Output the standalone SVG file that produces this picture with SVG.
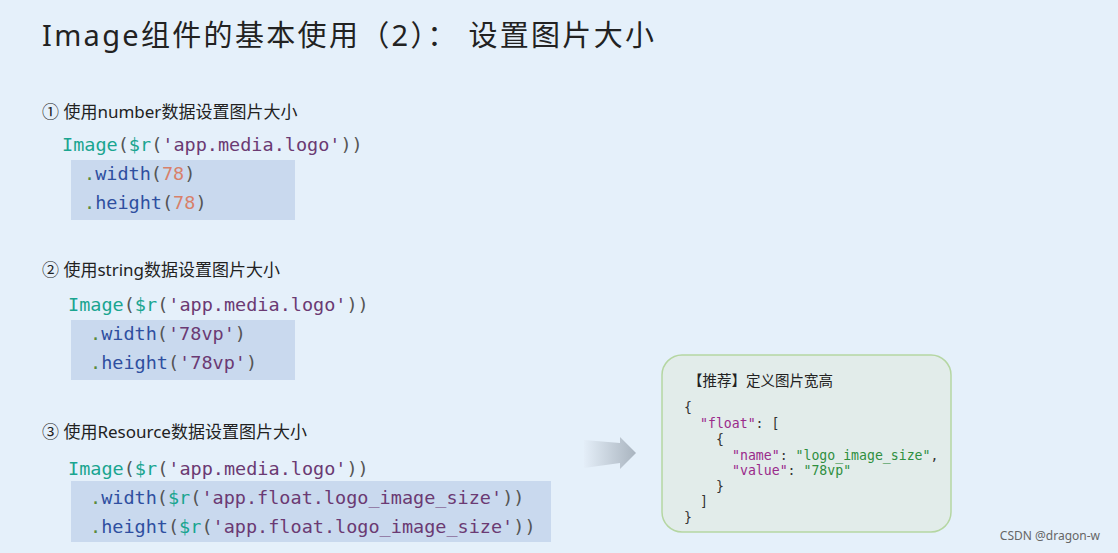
<svg xmlns="http://www.w3.org/2000/svg" width="1118" height="553" viewBox="0 0 1118 553">
<defs>
<linearGradient id="ag" x1="0" x2="1" y1="0" y2="0"><stop offset="0" stop-color="#e4eef8"/><stop offset="1" stop-color="#a9b4bf"/></linearGradient>
</defs>
<style>
.t{font-family:"Noto Sans","Noto Sans CJK SC",sans-serif;fill:#222}
.c{font-family:"DejaVu Sans Mono","Liberation Mono",monospace;font-size:18.5px}
.j{font-family:"DejaVu Sans Mono","Liberation Mono",monospace;font-size:13.2px;fill:#333}
.g{fill:#1aa590}.p{fill:#6b3a73}.b{fill:#2f4fa0}.n{fill:#d8806a}.d{fill:#5a8a3a}.k{fill:#555}
.hl{fill:#c9d9ee}
.jk{fill:#9a2a8a}.js{fill:#2f8f3f}
</style>
<rect width="1118" height="553" fill="#e5f0fa"/>
<text class="t" x="42" y="46" font-size="29" textLength="612" lengthAdjust="spacing">Image组件的基本使用（2）： 设置图片大小</text>
<g id="sec1">
<text class="t" x="42" y="118" font-size="17">① 使用number数据设置图片大小</text>
<rect class="hl" x="71" y="160" width="224" height="60"/>
<text class="c" x="62" y="151"><tspan class="g">Image</tspan><tspan class="k">(</tspan><tspan class="g">$r</tspan><tspan class="k">(</tspan><tspan class="p">'app.media.logo'</tspan><tspan class="k">))</tspan></text>
<text class="c" x="84" y="180"><tspan class="d">.</tspan><tspan class="b">width</tspan><tspan class="k">(</tspan><tspan class="n">78</tspan><tspan class="k">)</tspan></text>
<text class="c" x="84" y="209"><tspan class="d">.</tspan><tspan class="b">height</tspan><tspan class="k">(</tspan><tspan class="n">78</tspan><tspan class="k">)</tspan></text>
</g>
<g id="sec2">
<text class="t" x="42" y="276" font-size="17">② 使用string数据设置图片大小</text>
<rect class="hl" x="71" y="320" width="224" height="60"/>
<text class="c" x="68" y="311"><tspan class="g">Image</tspan><tspan class="k">(</tspan><tspan class="g">$r</tspan><tspan class="k">(</tspan><tspan class="p">'app.media.logo'</tspan><tspan class="k">))</tspan></text>
<text class="c" x="90" y="340"><tspan class="d">.</tspan><tspan class="b">width</tspan><tspan class="k">(</tspan><tspan class="p">'78vp'</tspan><tspan class="k">)</tspan></text>
<text class="c" x="90" y="369"><tspan class="d">.</tspan><tspan class="b">height</tspan><tspan class="k">(</tspan><tspan class="p">'78vp'</tspan><tspan class="k">)</tspan></text>
</g>
<g id="sec3">
<text class="t" x="42" y="438" font-size="17">③ 使用Resource数据设置图片大小</text>
<rect class="hl" x="71" y="481" width="480" height="61"/>
<text class="c" x="68" y="475"><tspan class="g">Image</tspan><tspan class="k">(</tspan><tspan class="g">$r</tspan><tspan class="k">(</tspan><tspan class="p">'app.media.logo'</tspan><tspan class="k">))</tspan></text>
<text class="c" x="90" y="504"><tspan class="d">.</tspan><tspan class="b">width</tspan><tspan class="k">(</tspan><tspan class="g">$r</tspan><tspan class="k">(</tspan><tspan class="p">'app.float.logo_image_size'</tspan><tspan class="k">))</tspan></text>
<text class="c" x="90" y="533"><tspan class="d">.</tspan><tspan class="b">height</tspan><tspan class="k">(</tspan><tspan class="g">$r</tspan><tspan class="k">(</tspan><tspan class="p">'app.float.logo_image_size'</tspan><tspan class="k">))</tspan></text>
</g>
<g id="connectors">
<path d="M584,440 L620,443 L620,437 L636,453 L620,469 L620,463 L584,468 Z" fill="url(#ag)"/>
</g>
<g id="rec">
<rect x="662" y="355" width="289" height="177" rx="20" fill="#e2ecea" stroke="#b5d6a2" stroke-width="1.5"/>
<text class="t" x="688" y="386" font-size="14.5">【推荐】定义图片宽高</text>
<text class="j" x="684" y="412">{</text>
<text class="j" x="700" y="428"><tspan class="jk">"float"</tspan>: [</text>
<text class="j" x="716" y="444">{</text>
<text class="j" x="732" y="460"><tspan class="jk">"name"</tspan>: <tspan class="js">"logo_image_size"</tspan>,</text>
<text class="j" x="732" y="475"><tspan class="jk">"value"</tspan>: <tspan class="js">"78vp"</tspan></text>
<text class="j" x="716" y="491">}</text>
<text class="j" x="700" y="506">]</text>
<text class="j" x="684" y="522">}</text>
</g>
<text x="1100" y="540" text-anchor="end" font-family="Noto Sans,sans-serif" font-size="12" fill="#666">CSDN @dragon-w</text>
</svg>
